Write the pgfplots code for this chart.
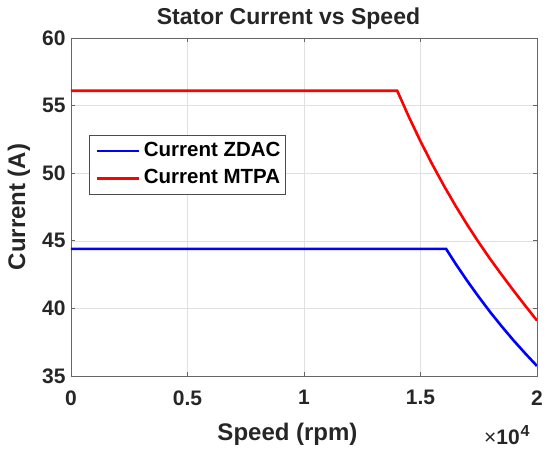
\documentclass[border=0pt]{standalone}
\usepackage{pgfplots}
\pgfplotsset{compat=1.18}
\usepackage{fontspec}
\setmainfont{Liberation Sans}
\definecolor{axgray}{gray}{0.15}
\begin{document}
\begin{tikzpicture}[x=1pt,y=1pt]
\useasboundingbox (0,0) rectangle (550,457);
\begin{axis}[
  at={(71pt,81pt)}, anchor=south west,
  scale only axis, width=466pt, height=338pt,
  xmin=0, xmax=20000, ymin=35, ymax=60,
  scaled x ticks=false, scaled y ticks=false,
  xtick={0,5000,10000,15000,20000},
  xticklabels={0,0.5,1,1.5,2},
  ytick={35,40,45,50,55,60},
  /pgf/number format/assume math mode=true,
  tick label style={font=\fontsize{21}{21}\selectfont\bfseries, text=axgray},
  xticklabel style={yshift=-11pt},
  yticklabel style={xshift=-2pt},
  tick align=inside, major tick length=4pt,
  axis line style={black!60, line width=0.6pt},
  tick style={black!60, line width=0.6pt},
  grid=major, grid style={black!12, line width=0.5pt},
  legend style={at={(0.0386,0.713)}, anchor=north west, draw=black!70, line width=0.6pt,
    font=\fontsize{20.5}{20.5}\selectfont\bfseries, inner xsep=1pt, inner ysep=6.3pt,
    nodes={inner xsep=4pt, inner ysep=0pt, text height=15pt, text depth=4pt},
    row sep=8.3pt, column sep=0pt},
  legend cell align=left,
  legend image code/.code={\path (0pt,0pt); \draw[#1] (5pt,0pt) -- (47pt,0pt);},
]
\addplot[blue, line width=2.6pt] coordinates {
 (0,44.4) (16100,44.4) (16500,43.32) (17000,42.05) (17500,40.85) (18000,39.71)
 (18500,38.64) (19000,37.62) (19500,36.66) (20000,35.74)};
\addlegendentry{Current ZDAC}
\addplot[red, line width=2.6pt] coordinates {
 (0,56.1) (14000,56.1) (14500,54.17) (15000,52.36) (15500,50.67) (16000,49.09)
 (16500,47.60) (17000,46.20) (17500,44.88) (18000,43.63) (18500,42.45)
 (19000,41.30) (19500,40.19) (20000,39.1)};
\addlegendentry{Current MTPA}
\end{axis}
\node[anchor=base, font=\fontsize{23}{23}\selectfont\bfseries, text=axgray] at (288.5,432) {Stator Current vs Speed};
\node[anchor=base, font=\fontsize{24}{24}\selectfont\bfseries, text=axgray] at (287.5,16) {Speed (rpm)};
\node[anchor=base, rotate=90, font=\fontsize{24}{24}\selectfont\bfseries, text=axgray] at (25,250) {Current (A)};
\node[anchor=base east, font=\fontsize{21}{21}\selectfont, text=axgray, inner sep=0pt] at (520,12) {×\textbf{10}};
\node[anchor=base west, font=\fontsize{16}{16}\selectfont\bfseries, text=axgray, inner sep=0pt] at (520.5,20.5) {4};
\end{tikzpicture}
\end{document}
